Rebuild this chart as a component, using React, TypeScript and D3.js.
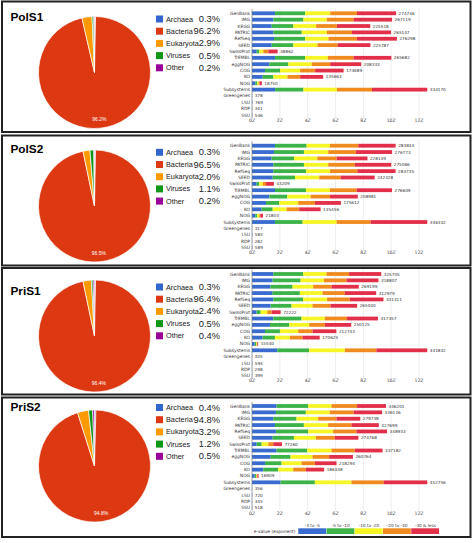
import React from 'react';
import * as d3 from 'd3';

const W = 474;
const H = 543;

const taxa = ['Archaea', 'Bacteria', 'Eukaryota', 'Viruses', 'Other'];
const taxaColors = ['#3366cc', '#dc3912', '#ff9900', '#109618', '#990099'];

const pctPolS1 = [0.3, 96.2, 2.9, 0.5, 0.2];
const pctPolS2 = [0.3, 96.5, 2.0, 1.1, 0.2];
const pctPriS1 = [0.3, 96.4, 2.4, 0.5, 0.4];
const pctPriS2 = [0.4, 94.8, 3.2, 1.2, 0.5];

const sources = ['GenBank', 'IMG', 'KEGG', 'PATRIC', 'RefSeq', 'SEED', 'SwissProt', 'TrEMBL', 'eggNOG', 'COG', 'KO', 'NOG', 'Subsystems', 'Greengenes', 'LSU', 'RDP', 'SSU'];
const evalueBins = ['-3 to -5', '-5 to -10', '-10 to -20', '-20 to -30', '-30 & less'];
const binColors = ['#3a6cd0', '#3bb349', '#f6f626', '#f08b1f', '#e22f4a'];
const tickValues = [0, 2, 4, 6, 8, 10, 12];
const tickLabels = ['0Z', '2Z', '4Z', '6Z', '8Z', '10Z', '12Z'];

const totPolS1 = [274746, 267119, 225518, 265147, 276298, 225787, 48862, 265682, 208333, 174689, 135663, 18750, 334170, 378, 769, 341, 546];
const totPolS2 = [283844, 276773, 228139, 275066, 283735, 242328, 43209, 276609, 208981, 175612, 135456, 21803, 346332, 317, 583, 282, 589];
const totPriS1 = [325705, 318807, 269199, 312979, 331311, 265040, 72222, 317357, 250125, 212743, 170625, 15540, 441832, 305, 594, 298, 399];
const totPriS2 = [346201, 336136, 279738, 327699, 348933, 274768, 77260, 337182, 260764, 218294, 186348, 16909, 452756, 356, 720, 345, 518];

// segment counts (thousands) per e-value bin
const segPolS1 = [
  [44, 57.3, 47.8, 51, 74.6], [40.8, 57.3, 44.6, 51, 73.4], [37.6, 41.4, 43.3, 39.5, 63.7],
  [40.8, 54.1, 47.8, 47.8, 74.6], [42, 59.2, 44.6, 54.1, 76.4], [37.6, 41.4, 45.9, 38.2, 62.7],
  [8.9, 5.1, 7.6, 9.6, 17.7], [44, 57.3, 43.3, 49, 72.1], [33.1, 36.3, 44.6, 35, 59.3],
  [24.8, 28.7, 38.2, 28.7, 54.3], [20.4, 20.4, 26.8, 24.2, 43.9], [6.4, 3.8, 2.5, 1.9, 4.2],
  [44, 54.1, 63.7, 66.9, 105.5], [0.378, 0, 0, 0, 0], [0.769, 0, 0, 0, 0], [0.341, 0, 0, 0, 0], [0.546, 0, 0, 0, 0],
];
const segPolS2 = [
  [45.4, 62.5, 46.1, 55.9, 73.9], [43.4, 59.2, 48, 54.6, 71.6], [38.8, 44.1, 46.1, 38.2, 60.9],
  [42.1, 60.5, 48, 52.6, 71.9], [42.1, 64.5, 47.4, 54, 75.7], [40.8, 44.1, 48, 42.1, 67.3],
  [9.2, 5.3, 6.6, 6.6, 15.5], [45.4, 61.2, 47.4, 52.6, 70], [34.2, 35.5, 46.1, 38.2, 55],
  [27.6, 26.3, 37.5, 32.9, 51.3], [19.1, 21.7, 27.6, 25, 42.1], [6.6, 3.9, 3.9, 2, 5.4],
  [45.4, 54.6, 67.1, 67.1, 112.1], [0.317, 0, 0, 0, 0], [0.583, 0, 0, 0, 0], [0.282, 0, 0, 0, 0], [0.589, 0, 0, 0, 0],
];
const segPriS1 = [
  [53.6, 75.4, 58.7, 57, 81], [52, 70.4, 58.7, 57, 80.7], [46.9, 55.3, 52, 46.1, 68.9],
  [52, 68.7, 57, 56.1, 79.2], [53.6, 75.4, 60.3, 57, 85], [46.9, 52.8, 52.8, 45.3, 67.2],
  [11.7, 10.1, 16.8, 10.9, 22.7], [53.6, 71.2, 58.7, 56.1, 77.8], [45.3, 48.6, 50.3, 39.4, 66.5],
  [32.7, 37.7, 46.1, 36, 60.2], [26.8, 31, 37.7, 31.8, 43.3], [6.7, 3.4, 1.7, 1.7, 2.0],
  [63.7, 80.4, 89.7, 79.6, 128.4], [0.305, 0, 0, 0, 0], [0.594, 0, 0, 0, 0], [0.298, 0, 0, 0, 0], [0.399, 0, 0, 0, 0],
];
const segPriS2 = [
  [63.6, 81.6, 60.1, 66.1, 74.8], [61.8, 77.3, 61.8, 61.8, 73.4], [55, 60.1, 55.8, 47.2, 61.6],
  [59.3, 74.7, 62.7, 60.1, 70.9], [61.8, 83.3, 64.4, 60.1, 79.3], [53.3, 55, 56.7, 49, 60.8],
  [12, 12.9, 17.2, 12.9, 22.3], [63.6, 79, 62.7, 60.1, 71.8], [48.1, 51.5, 56.7, 43, 61.5],
  [33.5, 43, 51.5, 34.4, 55.9], [29.2, 38.7, 38.7, 32.6, 47.1], [6.9, 3.4, 1.7, 1.7, 3.2],
  [73.9, 88.5, 94.5, 83.3, 112.6], [0.356, 0, 0, 0, 0], [0.72, 0, 0, 0, 0], [0.345, 0, 0, 0, 0], [0.518, 0, 0, 0, 0],
];

const panelData = [
  { name: 'PolS1', pct: pctPolS1, seg: segPolS1, tot: totPolS1 },
  { name: 'PolS2', pct: pctPolS2, seg: segPolS2, tot: totPolS2 },
  { name: 'PriS1', pct: pctPriS1, seg: segPriS1, tot: totPriS1 },
  { name: 'PriS2', pct: pctPriS2, seg: segPriS2, tot: totPriS2 },
];

// layout (positions only)
const layout = [
  { top: 1.5, bottom: 132, titleY: 21, pieCy: 72.5, legY: 19, barY: 13.3, axisY: 120 },
  { top: 135.5, bottom: 265.5, titleY: 153, pieCy: 206, legY: 152.3, barY: 145.7, axisY: 252.3 },
  { top: 268, bottom: 394.5, titleY: 295, pieCy: 336, legY: 287, barY: 274, axisY: 380.7 },
  { top: 397.5, bottom: 537, titleY: 411, pieCy: 466, legY: 407.5, barY: 406, axisY: 513.3 },
];

const X0 = 252;
const XMAXBAR = 427.3;
const ROW = 6.36;
const PIE_R = 56;
const PIE_CX = 94.5;
const SANS = 'Liberation Sans, Arial, sans-serif';
const SMALL = 'DejaVu Sans, sans-serif';

function Panel({ d, L, showEvalue }: any) {
  const pie = d3.pie<number>().sort(null).value((v) => v)(d.pct);
  const arc = d3.arc<any>().innerRadius(0).outerRadius(PIE_R);
  const big = pie[1];
  const mid = (big.startAngle + big.endAngle) / 2;
  const lr = PIE_R * 0.84;

  const maxTot = d3.max(d.seg.map((s: number[]) => d3.sum(s))) as number;
  const x = d3.scaleLinear().domain([0, maxTot]).range([X0, XMAXBAR]);
  const axisScale = d3.scaleLinear().domain([0, 12]).range([X0, 419]);
  const y = (i: number) => L.barY + i * ROW;
  const gridTop = L.barY - 5;
  const gridBot = y(sources.length - 1) + 3;

  return (
    <g>
      <rect x={2} y={L.top} width={468.5} height={L.bottom - L.top} fill="#fff" stroke="#222" strokeWidth={2} />
      <text x={10.5} y={L.titleY} fontFamily={SANS} fontWeight="bold" fontSize={11.8} fill="#000">{d.name}</text>
      {/* pie */}
      <g transform={`translate(${PIE_CX},${L.pieCy})`}>
        {pie.map((p: any, i: number) => (
          <path key={i} d={arc(p) as string} fill={taxaColors[i]} stroke="#fff" strokeWidth={0.7} />
        ))}
        <text x={Math.sin(mid) * lr} y={-Math.cos(mid) * lr} textAnchor="middle" dominantBaseline="central" fontFamily={SANS} fontSize={5} fill="#fff">{d3.format('.1f')(d.pct[1])}%</text>
      </g>
      {/* legend */}
      {taxa.map((t, i) => {
        const cy = L.legY + i * 12.2;
        return (
          <g key={t}>
            <rect x={156} y={cy - 3.5} width={7} height={7} fill={taxaColors[i]} />
            <text x={166} y={cy} dominantBaseline="central" fontFamily={SANS} fontSize={7.3} fill="#222">{t}</text>
            <text x={220} y={cy} textAnchor="end" dominantBaseline="central" fontFamily={SANS} fontSize={9.3} fill="#222">{d3.format('.1f')(d.pct[i])}%</text>
          </g>
        );
      })}
      {/* bar chart */}
      {tickValues.map((t) => (
        <line key={t} x1={axisScale(t)} x2={axisScale(t)} y1={gridTop} y2={gridBot} stroke="#e2e2e2" strokeWidth={0.6} />
      ))}
      {sources.map((s, i) => {
        const segs: number[] = d.seg[i];
        let acc = 0;
        return (
          <g key={s}>
            <text x={250} y={y(i)} textAnchor="end" dominantBaseline="central" fontFamily={SMALL} fontSize={4.4} fill="#333">{s}</text>
            {segs.map((v, k) => {
              const a = acc;
              acc += v;
              return v > 0 ? (
                <rect key={k} x={x(a)} y={y(i) - 1.9} width={Math.max(0, x(a + v) - x(a))} height={3.8} fill={binColors[k]} />
              ) : null;
            })}
            <text x={x(d3.sum(segs)) + 2.5} y={y(i)} dominantBaseline="central" fontFamily={SMALL} fontSize={4.2} fill="#333">{d.tot[i]}</text>
          </g>
        );
      })}
      <line x1={X0} x2={X0} y1={gridTop + 1} y2={gridBot} stroke="#777" strokeWidth={0.6} />
      {tickValues.map((t, i) => (
        <text key={t} x={axisScale(t)} y={L.axisY} textAnchor="middle" dominantBaseline="central" fontFamily={SMALL} fontSize={4.6} fill="#444">{tickLabels[i]}</text>
      ))}
      {showEvalue && (() => {
        const bx = d3.scaleBand().domain(evalueBins).range([298.3, 439.5]);
        return (
          <g>
            <text x={295.5} y={531} textAnchor="end" dominantBaseline="central" fontFamily={SMALL} fontSize={4.4} fill="#333">e-value (exponent)</text>
            {evalueBins.map((b, k) => (
              <g key={b}>
                <rect x={bx(b) as number} y={528.3} width={bx.bandwidth() - 0.4} height={5.7} fill={binColors[k]} />
                <text x={(bx(b) as number) + bx.bandwidth() / 2} y={525} textAnchor="middle" dominantBaseline="central" fontFamily={SMALL} fontSize={4.2} fill="#333">{b}</text>
              </g>
            ))}
          </g>
        );
      })()}
    </g>
  );
}

export default function App() {
  return (
    <svg width={W} height={H} style={{ position: 'absolute', left: 0, top: 0, background: '#fff' }}>
      <rect x={0} y={0} width={W} height={H} fill="#fff" />
      {panelData.map((d, i) => (
        <Panel key={d.name} d={d} L={layout[i]} showEvalue={i === 3} />
      ))}
    </svg>
  );
}
